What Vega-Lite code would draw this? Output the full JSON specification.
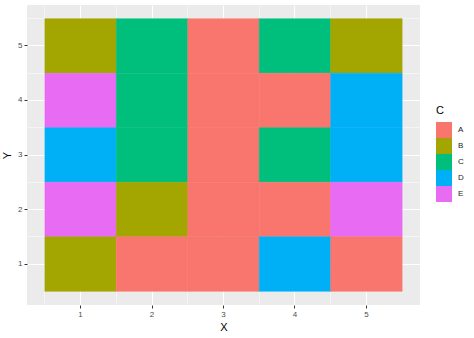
{
  "$schema": "https://vega.github.io/schema/vega-lite/v6.json",
  "width": 393,
  "height": 300,
  "autosize": "none",
  "padding": {"left": 27, "top": 5, "right": 54, "bottom": 33},
  "background": "white",
  "config": {
    "view": {"fill": "#EBEBEB", "stroke": null},
    "font": "Liberation Sans",
    "axis": {
      "domain": false,
      "tickColor": "#333333",
      "tickSize": 3,
      "labelColor": "#4D4D4D",
      "labelFontSize": 8,
      "labelPadding": 2,
      "titleFontSize": 11,
      "titleColor": "#000000",
      "titleFontWeight": "normal",
      "gridColor": "#FFFFFF",
      "gridWidth": 1.1,
      "zindex": 0
    }
  },
  "data": {
    "values": [
      {"X": 1, "Y": 5, "C": "B"}, {"X": 2, "Y": 5, "C": "C"}, {"X": 3, "Y": 5, "C": "A"}, {"X": 4, "Y": 5, "C": "C"}, {"X": 5, "Y": 5, "C": "B"},
      {"X": 1, "Y": 4, "C": "E"}, {"X": 2, "Y": 4, "C": "C"}, {"X": 3, "Y": 4, "C": "A"}, {"X": 4, "Y": 4, "C": "A"}, {"X": 5, "Y": 4, "C": "D"},
      {"X": 1, "Y": 3, "C": "D"}, {"X": 2, "Y": 3, "C": "C"}, {"X": 3, "Y": 3, "C": "A"}, {"X": 4, "Y": 3, "C": "C"}, {"X": 5, "Y": 3, "C": "D"},
      {"X": 1, "Y": 2, "C": "E"}, {"X": 2, "Y": 2, "C": "B"}, {"X": 3, "Y": 2, "C": "A"}, {"X": 4, "Y": 2, "C": "A"}, {"X": 5, "Y": 2, "C": "E"},
      {"X": 1, "Y": 1, "C": "B"}, {"X": 2, "Y": 1, "C": "A"}, {"X": 3, "Y": 1, "C": "A"}, {"X": 4, "Y": 1, "C": "D"}, {"X": 5, "Y": 1, "C": "A"}
    ]
  },
  "layer": [
    {
      "mark": {"type": "rect", "opacity": 0},
      "encoding": {
        "x": {"field": "X", "type": "ordinal", "scale": {"paddingInner": 0, "paddingOuter": 0.25},
              "axis": {"orient": "top", "bandPosition": 0, "grid": true, "gridWidth": 0.5, "labels": false, "ticks": false, "title": null, "zindex": 0}},
        "y": {"field": "Y", "type": "ordinal", "sort": "descending", "scale": {"paddingInner": 0, "paddingOuter": 0.25},
              "axis": {"orient": "right", "bandPosition": 0, "grid": true, "gridWidth": 0.5, "labels": false, "ticks": false, "title": null, "zindex": 0}}
      }
    },
    {
      "mark": {"type": "rect", "zindex": 1, "strokeWidth": 0.5},
      "encoding": {
        "x": {"field": "X", "type": "ordinal", "scale": {"paddingInner": 0, "paddingOuter": 0.25},
              "axis": {"orient": "bottom", "bandPosition": 0.5, "grid": true, "labelAngle": 0, "title": "X", "titlePadding": 3, "zindex": 0}},
        "y": {"field": "Y", "type": "ordinal", "sort": "descending", "scale": {"paddingInner": 0, "paddingOuter": 0.25},
              "axis": {"orient": "left", "bandPosition": 0.5, "grid": true, "title": "Y", "titlePadding": 5, "zindex": 0}},
        "stroke": {
          "field": "C", "type": "nominal",
          "scale": {"domain": ["A", "B", "C", "D", "E"], "range": ["#F8766D", "#A3A500", "#00BF7D", "#00B0F6", "#E76BF3"]},
          "legend": null
        },
        "color": {
          "field": "C", "type": "nominal",
          "scale": {"domain": ["A", "B", "C", "D", "E"], "range": ["#F8766D", "#A3A500", "#00BF7D", "#00B0F6", "#E76BF3"]},
          "legend": {
            "orient": "none", "legendX": 409, "legendY": 100,
            "title": "C", "titleFontSize": 11, "titleFontWeight": "normal", "titleColor": "#000000", "titlePadding": 6,
            "symbolType": "square", "symbolSize": 256, "symbolStrokeWidth": 0, "symbolOpacity": 1,
            "rowPadding": 0, "labelFontSize": 8, "labelColor": "#1A1A1A", "labelOffset": 6
          }
        }
      }
    }
  ],
  "resolve": {"axis": {"x": "independent", "y": "independent"}}
}
